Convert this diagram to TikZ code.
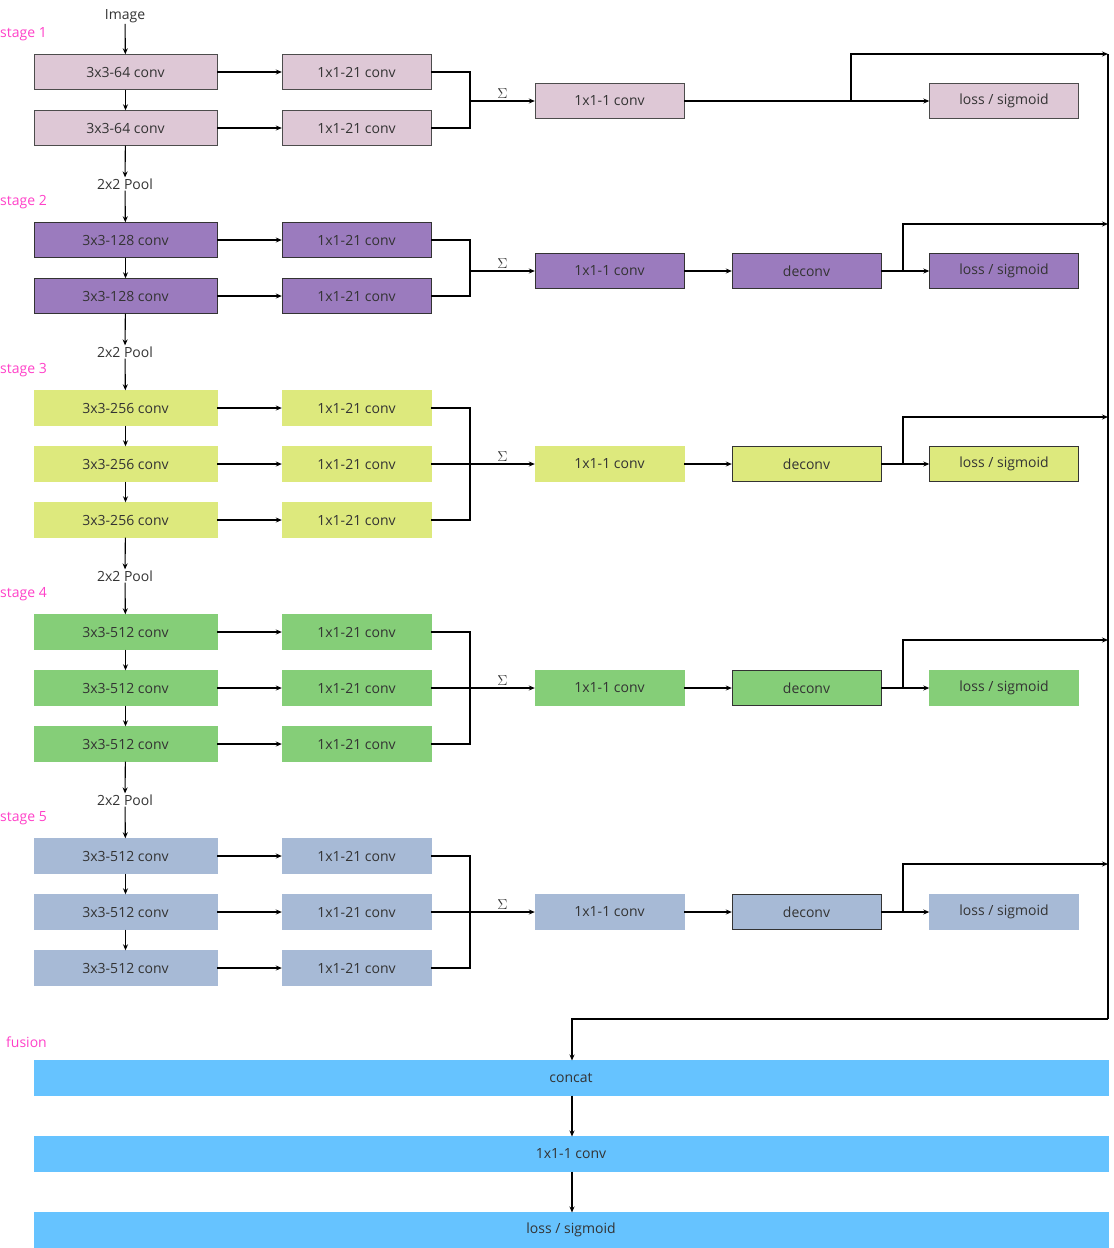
\documentclass[tikz,border=0pt]{standalone}
\usepackage{fontspec}
\setmainfont{Open Sans}
\usetikzlibrary{arrows.meta}
\definecolor{cPink}{HTML}{DEC8D6}
\definecolor{cPurple}{HTML}{9B7BBE}
\definecolor{cYellow}{HTML}{DDE97D}
\definecolor{cGreen}{HTML}{85CE78}
\definecolor{cBlue}{HTML}{A7BAD6}
\definecolor{cFuse}{HTML}{66C3FF}
\definecolor{cMag}{HTML}{FF40C8}
\begin{document}
\begin{tikzpicture}[x=1pt,y=-1pt,
  every node/.style={font=\fontsize{14}{16}\selectfont, text=black!80},
  box/.style={draw=#1, minimum height=35pt, inner sep=0pt},
  wL/.style={minimum width=183pt},
  wS/.style={minimum width=149pt},
  arr/.style={-{Stealth[length=6pt,width=5pt]}, line width=1.1pt},
  ln/.style={line width=1.1pt},
  stg/.style={text=cMag, anchor=west, inner sep=0pt},
  lbl/.style={inner sep=1pt}]
\useasboundingbox (0,0) rectangle (1114,1248);
\node[lbl] (img) at (125,16) {Image};
% stage specs: name, color, rows, sumy, bordered-left, has deconv, loss border
\newcommand{\stage}[9]{%
  % #1 id, #2 color, #3 y1, #4 y2, #5 y3 or none, #6 sum y, #7 leftborder, #8 lossborder, #9 text
  \node[box=#7, fill=#2, wL] (#1a1) at (125.5,#3) {#9};
  \node[box=#7, fill=#2, wL] (#1a2) at (125.5,#4) {#9};
  \node[box=#7, fill=#2, wS] (#1b1) at (356.5,#3) {1x1-21 conv};
  \node[box=#7, fill=#2, wS] (#1b2) at (356.5,#4) {1x1-21 conv};
  \draw[arr] (#1a1) -- (#1b1);
  \draw[arr] (#1a2) -- (#1b2);
  \draw[arr] (#1a1) -- (#1a2);
  \node[box=#7, fill=#2, wS] (#1s) at (609.5,#6) {1x1-1 conv};
  \coordinate (#1j) at (470,#6);
  \draw[ln] (#1b1.east) -| (#1j);
  \draw[ln] (#1b2.east) -| (#1j);
  \draw[arr] (#1j) -- (#1s) node[midway, above=1pt, inner sep=1pt] {$\Sigma$};
  \node[box=#8, fill=#2, wS] (#1l) at (1004,#6) {loss / sigmoid};
}
% Stage 1
\node[stg] at (0,34) {stage 1};
\stage{A}{cPink}{72}{128}{}{101}{black!70}{black!70}{3x3-64 conv}
\draw[arr] (img) -- (Aa1);
\coordinate (Ab) at (851,101);
\draw[arr] (As) -- (Al);
\coordinate (Ar) at (1108,54);
\draw[arr] (Ab) |- (Ar);
\node[lbl] (p1) at (125,184) {2x2 Pool};
\draw[arr] (Aa2) -- (p1);
% Stage 2
\node[stg] at (0,202) {stage 2};
\stage{B}{cPurple}{240}{296}{}{271}{black!80}{black!80}{3x3-128 conv}
\draw[arr] (p1) -- (Ba1);
\node[box=black!80, fill=cPurple, wS] (Bd) at (806.5,271) {deconv};
\draw[arr] (Bs) -- (Bd); \draw[arr] (Bd) -- (Bl);
\coordinate (Bb) at (903,271); \coordinate (Br) at (1108,224);
\draw[arr] (Bb) |- (Br);
\node[lbl] (p2) at (125,352) {2x2 Pool};
\draw[arr] (Ba2) -- (p2);
% 3-row stages
\newcommand{\third}[5]{% id, color, y3, label, leftborder
  \node[box=#5, fill=#2, wL] (#1a3) at (125.5,#3) {#4};
  \node[box=#5, fill=#2, wS] (#1b3) at (356.5,#3) {1x1-21 conv};
  \draw[arr] (#1a2) -- (#1a3);
  \draw[arr] (#1a3) -- (#1b3);
  \draw[ln] (#1b3.east) -| (#1j);
}
% Stage 3
\node[stg] at (0,370) {stage 3};
\stage{C}{cYellow}{408}{464}{}{464}{cYellow}{black!80}{3x3-256 conv}
\third{C}{cYellow}{520}{3x3-256 conv}{cYellow}
\draw[ln] (Cb1.east) -| (470,519);
\draw[arr] (p2) -- (Ca1);
\node[box=black!80, fill=cYellow, wS] (Cd) at (806.5,464) {deconv};
\draw[arr] (Cs) -- (Cd); \draw[arr] (Cd) -- (Cl);
\coordinate (Cb) at (903,464); \coordinate (Cr) at (1108,417);
\draw[arr] (Cb) |- (Cr);
\node[lbl] (p3) at (125,576) {2x2 Pool};
\draw[arr] (Ca3) -- (p3);
% Stage 4
\node[stg] at (0,594) {stage 4};
\stage{D}{cGreen}{632}{688}{}{688}{cGreen}{cGreen}{3x3-512 conv}
\third{D}{cGreen}{744}{3x3-512 conv}{cGreen}
\draw[arr] (p3) -- (Da1);
\node[box=black!80, fill=cGreen, wS] (Dd) at (806.5,688) {deconv};
\draw[arr] (Ds) -- (Dd); \draw[arr] (Dd) -- (Dl);
\coordinate (Db) at (903,688); \coordinate (Dr) at (1108,640);
\draw[arr] (Db) |- (Dr);
\node[lbl] (p4) at (125,800) {2x2 Pool};
\draw[arr] (Da3) -- (p4);
% Stage 5
\node[stg] at (0,818) {stage 5};
\stage{E}{cBlue}{856}{912}{}{912}{cBlue}{cBlue}{3x3-512 conv}
\third{E}{cBlue}{968}{3x3-512 conv}{cBlue}
\draw[arr] (p4) -- (Ea1);
\node[box=black!80, fill=cBlue, wS] (Ed) at (806.5,912) {deconv};
\draw[arr] (Es) -- (Ed); \draw[arr] (Ed) -- (El);
\coordinate (Eb) at (903,912); \coordinate (Er) at (1108,864);
\draw[arr] (Eb) |- (Er);
% right bus
\coordinate (Rt) at (1108,54); \coordinate (Rb) at (1108,1019);
\draw[ln] (Rt) -- (Rb);
% fusion
\node[stg] at (6,1042) {fusion};
\node[box=cFuse, fill=cFuse, minimum width=1074pt] (F1) at (571,1078) {concat};
\node[box=cFuse, fill=cFuse, minimum width=1074pt] (F2) at (571,1154) {1x1-1 conv};
\node[box=cFuse, fill=cFuse, minimum width=1074pt] (F3) at (571,1230) {loss / sigmoid};
\coordinate (Fc) at (572,1019);
\draw[arr] (Rb) -- (Fc) -- (572,1060.5);
\draw[arr] (572,1095.5) -- (572,1136.5);
\draw[arr] (572,1171.5) -- (572,1212.5);
\end{tikzpicture}
\end{document}
